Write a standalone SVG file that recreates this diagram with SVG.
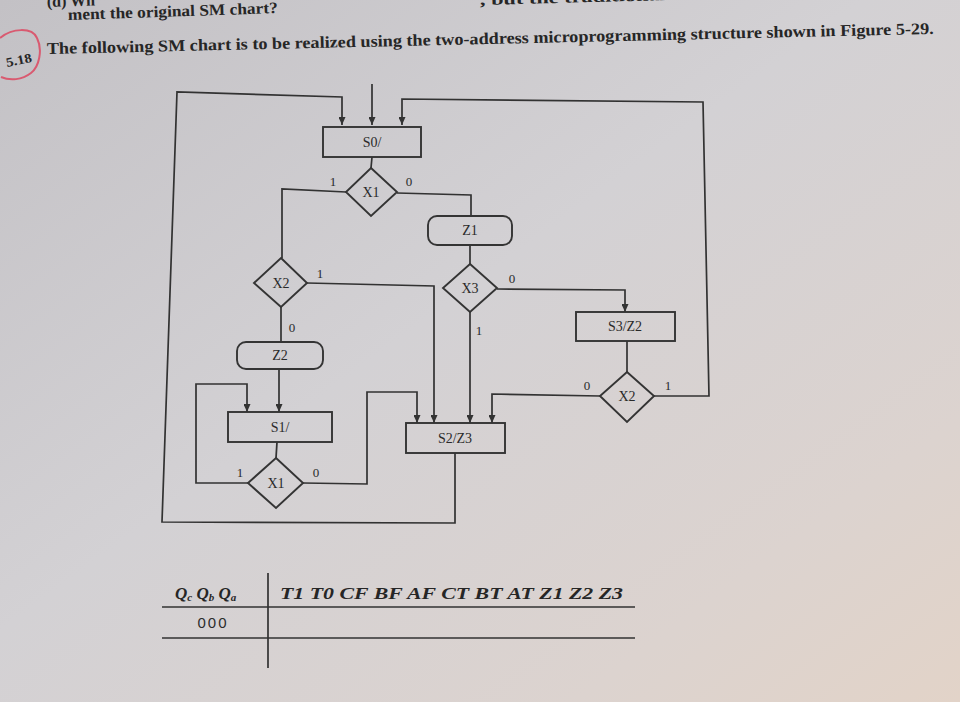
<svg xmlns="http://www.w3.org/2000/svg" width="960" height="702" viewBox="0 0 960 702">
<defs>
<linearGradient id="paper" x1="0" y1="0" x2="1" y2="1">
<stop offset="0" stop-color="#c3c1c5"/>
<stop offset="0.45" stop-color="#d3d1d4"/>
<stop offset="0.8" stop-color="#dcd3cf"/>
<stop offset="1" stop-color="#e2d3c8"/>
</linearGradient>
<marker id="arr" viewBox="0 0 8 7" refX="8" refY="3.5" markerWidth="8" markerHeight="7" markerUnits="userSpaceOnUse" orient="auto">
<path d="M0,0 L8,3.5 L0,7 z" fill="#333"/>
</marker>
<style>
.ln{fill:none;stroke:#323232;stroke-width:1.7;stroke-linejoin:miter}
.box{fill:none;stroke:#343434;stroke-width:1.9}
.lbl{font-family:"Liberation Serif",serif;font-size:14px;fill:#2a2a2a;text-anchor:middle}
.bit{font-family:"Liberation Serif",serif;font-size:13px;fill:#2a2a2a;text-anchor:middle}
.hd{font-family:"Liberation Serif",serif;font-weight:bold;fill:#262626}
.tb{font-family:"Liberation Serif",serif;font-weight:bold;font-style:italic;font-size:17px;fill:#262626}
</style>
</defs>
<rect width="960" height="702" fill="url(#paper)"/>

<g id="page-text">
<text class="hd" x="47" y="7" font-size="16" transform="rotate(-1.9 47 7)">(d) Wh</text>
<text class="hd" x="480" y="5" font-size="16" transform="rotate(-1.5 480 5)" textLength="225" lengthAdjust="spacingAndGlyphs">, but the traditional RO</text>
<text class="hd" x="68" y="20" font-size="16" transform="rotate(-1.9 68 20)" textLength="210" lengthAdjust="spacingAndGlyphs">ment the original SM chart?</text>
<text class="hd" x="47" y="54" font-size="16.5" transform="rotate(-1.3 47 54)" textLength="887" lengthAdjust="spacingAndGlyphs">The following SM chart is to be realized using the two-address microprogramming structure shown in Figure 5-29.</text>
<text class="hd" x="7" y="67" font-size="13" transform="rotate(-12 7 67)" textLength="26" lengthAdjust="spacingAndGlyphs">5.18</text>
<path d="M0,38 C12,28 32,27 37,38 C43,50 39,67 31,73 C22,80 10,81 1,77" fill="none" stroke="#d95a70" stroke-width="2"/>
</g>

<g id="connectors">
<polyline class="ln" points="455,453 455,523 162,522 177,92 342,97 342,125" marker-end="url(#arr)"/>
<line class="ln" x1="372" y1="84" x2="372" y2="125" marker-end="url(#arr)"/>
<polyline class="ln" points="654,396 709,396 703,102 402,99 402,125" marker-end="url(#arr)"/>
<line class="ln" x1="372" y1="157" x2="371" y2="168"/>
<polyline class="ln" points="346,192 282,189 282,258"/>
<polyline class="ln" points="397,193 471,195 471,216"/>
<line class="ln" x1="470" y1="245" x2="470" y2="264"/>
<polyline class="ln" points="497,289 625,290 625,312" marker-end="url(#arr)"/>
<line class="ln" x1="627" y1="341" x2="627" y2="372"/>
<polyline class="ln" points="600,396 492,394 492,423" marker-end="url(#arr)"/>
<line class="ln" x1="470" y1="312" x2="470" y2="423" marker-end="url(#arr)"/>
<polyline class="ln" points="307,283 434,286 434,423" marker-end="url(#arr)"/>
<line class="ln" x1="281" y1="307" x2="281" y2="342"/>
<line class="ln" x1="279" y1="369" x2="279" y2="412" marker-end="url(#arr)"/>
<line class="ln" x1="277" y1="442" x2="276" y2="458"/>
<polyline class="ln" points="248,483 196,483 196,384 247,384 247,412" marker-end="url(#arr)"/>
<polyline class="ln" points="303,483 367,484 367,392 417,392 417,423" marker-end="url(#arr)"/>
</g>

<g id="S0">
<rect class="box" x="323" y="127" width="98" height="30"/>
<text class="lbl" x="372" y="147">S0/</text>
</g>
<g id="X1a">
<polygon class="box" points="371,168 397,192 371,216 346,192"/>
<text class="lbl" x="371" y="197">X1</text>
<text class="bit" x="333" y="186">1</text>
<text class="bit" x="409" y="186">0</text>
</g>
<g id="Z1">
<rect class="box" x="428" y="216" width="84" height="29" rx="9"/>
<text class="lbl" x="470" y="235">Z1</text>
</g>
<g id="X2a">
<polygon class="box" points="281,258 307,283 281,307 254,283"/>
<text class="lbl" x="281" y="288">X2</text>
<text class="bit" x="320" y="278">1</text>
<text class="bit" x="292" y="332">0</text>
</g>
<g id="X3">
<polygon class="box" points="470,264 497,288 470,312 443,288"/>
<text class="lbl" x="470" y="293">X3</text>
<text class="bit" x="512" y="283">0</text>
<text class="bit" x="479" y="335">1</text>
</g>
<g id="S3">
<rect class="box" x="576" y="312" width="99" height="29"/>
<text class="lbl" x="625" y="331">S3/Z2</text>
</g>
<g id="X2b">
<polygon class="box" points="627,372 654,396 627,422 600,396"/>
<text class="lbl" x="627" y="401">X2</text>
<text class="bit" x="587" y="390">0</text>
<text class="bit" x="668" y="390">1</text>
</g>
<g id="Z2">
<rect class="box" x="237" y="342" width="86" height="27" rx="9"/>
<text class="lbl" x="280" y="360">Z2</text>
</g>
<g id="S1">
<rect class="box" x="228" y="412" width="104" height="30"/>
<text class="lbl" x="280" y="432">S1/</text>
</g>
<g id="X1b">
<polygon class="box" points="276,458 303,483 276,508 248,483"/>
<text class="lbl" x="276" y="488">X1</text>
<text class="bit" x="240" y="477">1</text>
<text class="bit" x="316" y="477">0</text>
</g>
<g id="S2">
<rect class="box" x="406" y="423" width="99" height="30"/>
<text class="lbl" x="455" y="443">S2/Z3</text>
</g>

<g id="table">
<text class="tb" x="175" y="599">Q<tspan font-size="11" dy="2">c</tspan><tspan dy="-2"> Q</tspan><tspan font-size="11" dy="2">b</tspan><tspan dy="-2"> Q</tspan><tspan font-size="11" dy="2">a</tspan></text>
<text class="tb" x="280" y="599" textLength="343" lengthAdjust="spacingAndGlyphs">T1 T0 CF BF AF CT BT AT Z1 Z2 Z3</text>
<line class="ln" x1="268" y1="573" x2="268" y2="668" stroke-width="2"/>
<line class="ln" x1="162" y1="607" x2="635" y2="607" stroke-width="2"/>
<line class="ln" x1="162" y1="638" x2="635" y2="638" stroke-width="2"/>
<text x="213" y="628" font-family="Liberation Sans, sans-serif" font-size="15" fill="#2c2c2c" text-anchor="middle" letter-spacing="2">000</text>
</g>
</svg>
